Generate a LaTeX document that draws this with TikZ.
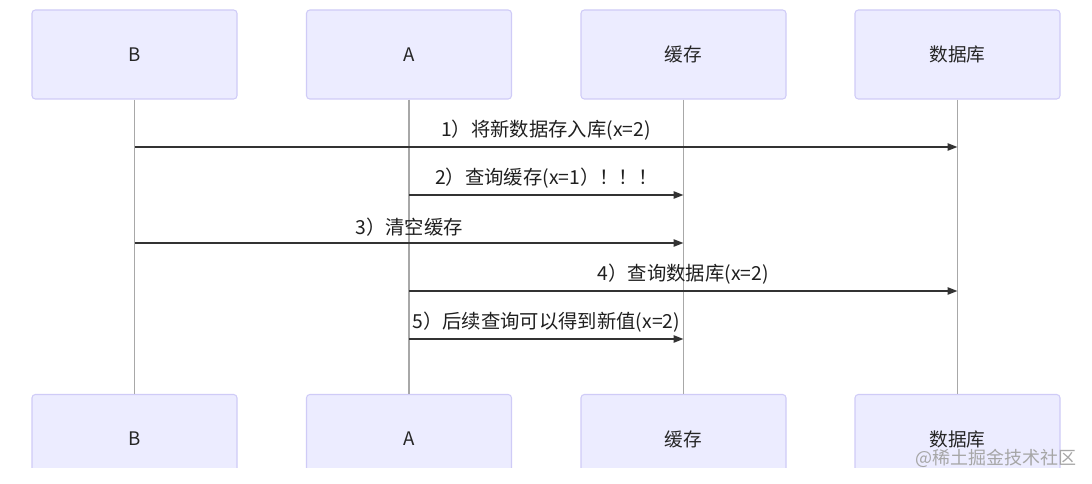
\documentclass[tikz,border=0pt]{standalone}
\usepackage{fontspec}
\setmainfont{Noto Sans CJK SC}
\usepackage{xcolor}
\usetikzlibrary{arrows.meta}
\definecolor{actorfill}{HTML}{ECECFF}
\definecolor{actorline}{HTML}{CFCBF7}
\definecolor{lifegray}{HTML}{A8A8A8}
\definecolor{msgdark}{HTML}{333333}

\begin{document}
\begin{tikzpicture}[x=0.75pt,y=-0.75pt,
  actor/.style={draw=actorline,fill=actorfill,line width=0.8pt,rounded corners=2.5pt,
    minimum width=153.75pt,minimum height=66.75pt,inner sep=0pt,
    font=\fontsize{14}{16}\selectfont,text=black!85},
  life/.style={draw=lifegray,line width=0.8pt},
  msg/.style={draw=msgdark,line width=1.2pt,-{Triangle[length=7.5pt,width=5.5pt]}},
  msgtext/.style={font=\fontsize{14.5}{16}\selectfont,text=black!88,above=1pt}]
\useasboundingbox (0,0) rectangle (1092,484);

% participants, top and bottom
\node[actor] (tB) at (134.5,54.5) {B};
\node[actor] (tA) at (409,54.5) {A};
\node[actor] (tC) at (683.5,54.5) {缓存};
\node[actor] (tD) at (957.5,54.5) {数据库};

\node[actor] (bB) at (134.5,439) {B};
\node[actor] (bA) at (409,439) {A};
\node[actor] (bC) at (683.5,439) {缓存};
\node[actor] (bD) at (957.5,439) {数据库};

% lifelines
\draw[life] (tB) -- (bB);
\draw[life] (tA) -- (bA);
\draw[life] (tC) -- (bC);
\draw[life] (tD) -- (bD);

% messages
\draw[msg] (tB |- 0,147) -- (tD |- 0,147) node[midway,msgtext] {1）将新数据存入库(x=2)};
\draw[msg] (tA |- 0,195) -- (tC |- 0,195) node[midway,msgtext] {2）查询缓存(x=1）！！！};
\draw[msg] (tB |- 0,243) -- (tC |- 0,243) node[midway,msgtext] {3）清空缓存};
\draw[msg] (tA |- 0,291) -- (tD |- 0,291) node[midway,msgtext] {4）查询数据库(x=2)};
\draw[msg] (tA |- 0,339) -- (tC |- 0,339) node[midway,msgtext] {5）后续查询可以得到新值(x=2)};

% picture is cut off below the bottom boxes
\fill[white] (0,468) rectangle (1092,484);
\node[font=\fontsize{13.5}{15}\selectfont,text=black!35,anchor=east,inner sep=0pt] (mark) at (1077,458) {@稀土掘金技术社区};
\end{tikzpicture}
\end{document}
